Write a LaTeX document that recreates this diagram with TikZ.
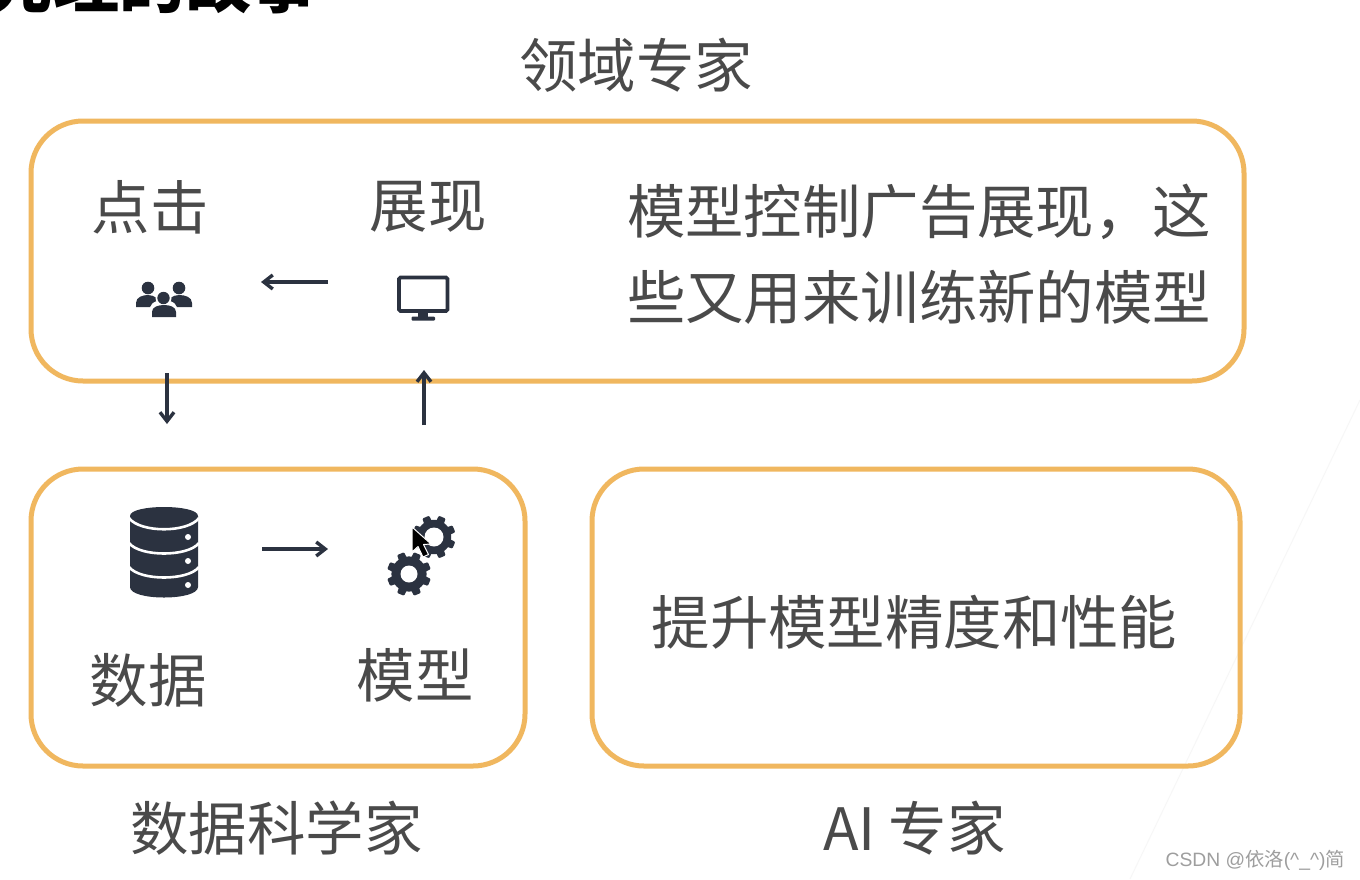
\documentclass[tikz,border=0pt]{standalone}
\usepackage{fontspec}
\setmainfont{Noto Sans CJK SC}
\newfontfamily\wmlatin{Liberation Sans}
\definecolor{boxorange}{HTML}{F0B75F}
\definecolor{icondark}{HTML}{2B3240}
\definecolor{txtgray}{HTML}{4A4A4A}
\newcommand{\gearicon}[4]{%
  \fill[icondark] (#1,#2) circle ({#3*0.8});
  \foreach \ang in {0,45,...,315}{
    \fill[icondark,rotate around={\ang+22.5:(#1,#2)},rounded corners=1pt] ({#1-#3*0.24},#2) -- ({#1-#3*0.17},{#2-#3}) -- ({#1+#3*0.17},{#2-#3}) -- ({#1+#3*0.24},#2) -- cycle;
  }
  \fill[white] (#1,#2) circle (#4);
}
\usetikzlibrary{arrows.meta}
\tikzset{
  x=1pt,y=-1pt,
  panel/.style={draw=boxorange,line width=5pt,rounded corners=52pt},
  label/.style={text=txtgray,font=\fontsize{58.4}{70}\selectfont,inner sep=0pt,outer sep=0pt},
  flow/.style={draw=icondark,line width=3.4pt,-{Straight Barb[length=9pt,width=14pt,line width=3.4pt]}},
  icon/.style={fill=icondark,draw=none}
}
\begin{document}
\begin{tikzpicture}
\useasboundingbox (0,0) rectangle (1360,879);
\fill[white] (0,0) rectangle (1360,879);
\begin{scope}
\clip (0,0) rectangle (1360,879);
\node[anchor=base east,inner sep=0pt,text=black,font=\fontsize{66}{70}\selectfont\bfseries] (title) at (318,7) {先理的故事};
\end{scope}
\coordinate (bgA) at (1360,400);
\coordinate (bgB) at (1130,879);
\draw[color=black!3,line width=1pt] (bgA) -- (bgB);

% panels
\draw[panel] (31,121) rectangle (1244,381);
\draw[panel] (31,469) rectangle (525,766);
\draw[panel] (592,469) rectangle (1240,766);

% labels
\node[label] (expert) at (636,65) {领域专家};
\node[label] (click) at (150,207) {点击};
\node[label] (show) at (428,207) {展现};
\node[label,anchor=west] (desc1) at (627,212) {模型控制广告展现，这};
\node[label,anchor=west] (desc2) at (627,297) {些又用来训练新的模型};
\node[label] (data) at (148,680) {数据};
\node[label] (model) at (415,675) {模型};
\node[label] (improve) at (914.5,622) {提升模型精度和性能};
\node[label] (ds) at (276.5,828) {数据科学家};
\node[label] (ai) at (914.5,828) {AI 专家};
\node[anchor=east,inner sep=0pt,text=black!38,font=\fontsize{19.3}{22}\selectfont] (wm) at (1345,860) {{\wmlatin CSDN @}依洛{\wmlatin (\^{}\_\^{})}简};

% connectors
\coordinate (a1s) at (328,282); \coordinate (a1e) at (261,282);
\coordinate (a2s) at (167,373); \coordinate (a2e) at (167,424);
\coordinate (a3s) at (424,425); \coordinate (a3e) at (424,370);
\coordinate (a4s) at (262,549); \coordinate (a4e) at (328,549);
\draw[flow] (a1s) -- (a1e);
\draw[flow] (a2s) -- (a2e);
\draw[flow] (a3s) -- (a3e);
\draw[flow] (a4s) -- (a4e);

% people icon
\fill[icon] (148,288) circle (6.3);
\fill[icon] (179,288) circle (6.3);
\fill[icon] (136,307) -- (136,303) .. controls (136,297) and (143,295) .. (148,295) .. controls (151,295) and (154,296) .. (157,298) -- (157,301) .. controls (153,302) and (151,304) .. (150,307) -- cycle;
\fill[icon] (192,307) -- (192,303) .. controls (192,297) and (185,295) .. (179,295) .. controls (176,295) and (173,296) .. (170,298) -- (170,301) .. controls (174,302) and (176,304) .. (177,307) -- cycle;
\fill[white] (163.5,298) circle (8);
\fill[icon] (163.5,298) circle (6.2);
\fill[icon] (152,317) -- (152,312) .. controls (152,307) and (158,305) .. (164,305) .. controls (170,305) and (176,307) .. (176,312) -- (176,317) -- cycle;

% monitor icon
\draw[icondark,line width=3.6pt,rounded corners=1.5pt] (399,277.5) rectangle (447.5,311);
\fill[icon] (418,312) rectangle (428,317);
\fill[icon,rounded corners=1pt] (411.5,316.5) rectangle (435,320.5);

% database icon
\fill[icon] (130,516) .. controls (130,504) and (198,504) .. (198,516) -- (198,587) .. controls (198,601) and (130,601) .. (130,587) -- cycle;
\draw[white,line width=2.6pt] (129,518) .. controls (140,533) and (188,533) .. (199,518);
\draw[white,line width=2.6pt] (129,543) .. controls (140,557) and (188,557) .. (199,543);
\draw[white,line width=2.6pt] (129,567) .. controls (140,581) and (188,581) .. (199,567);
\fill[white] (188,537) circle (3);
\fill[white] (188,561) circle (3);
\fill[white] (188,585) circle (3);

% gears
\gearicon{434}{537}{21.5}{9.5}
\gearicon{409}{574}{22}{8.5}

% cursor
\fill[black,draw=white,line width=1pt,line join=round] (412,527) -- (412,552) -- (418,546.5) -- (423,557) -- (428.5,554.5) -- (423.5,544.5) -- (431,544) -- cycle;
\end{tikzpicture}
\end{document}
